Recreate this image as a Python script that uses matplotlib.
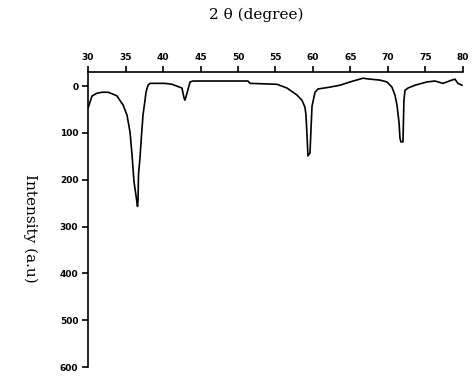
import matplotlib
matplotlib.use("Agg")
import matplotlib.pyplot as plt

two_theta = [30.0, 30.53, 31.2, 31.87, 32.67, 33.33, 33.87, 34.4, 34.67, 35.2,
             35.6, 35.87, 36.13, 36.4, 36.6, 36.67, 36.73, 36.93, 37.07, 37.33,
             37.6, 37.73, 38.0, 38.27, 40.27, 41.2, 41.87, 42.53, 42.8, 42.93,
             43.2, 43.6, 44.0, 45.6, 48.93, 51.33, 51.6, 55.2, 56.53, 57.87,
             58.53, 58.93, 59.07, 59.2, 59.33, 59.6, 59.73, 59.87, 60.27, 60.67,
             62.27, 63.6, 64.93, 66.67, 67.6, 68.93, 69.87, 70.53, 70.93, 71.2,
             71.47, 71.6, 71.73, 72.0, 72.13, 72.27, 72.67, 73.6, 75.2, 76.27,
             77.33, 78.53, 78.93, 79.33, 79.87]
intensity = [47, 21, 15, 13, 13, 17, 21, 34, 40, 62,
             98, 147, 204, 234, 257, 243, 189, 153, 119, 62,
             30, 13, -2, -6, -6, -4, 0, 4, 25, 30,
             15, -9, -11, -11, -11, -11, -6, -4, 4, 19,
             30, 45, 62, 104, 149, 143, 94, 43, 13, 6,
             2, -2, -9, -17, -15, -13, -9, 2, 19, 40,
             77, 111, 119, 119, 30, 9, 4, -2, -9, -11,
             -6, -13, -15, -6, -2]

x_ticks = [30, 35, 40, 45, 50, 55, 60, 65, 70, 75, 80]
y_ticks = [0, 100, 200, 300, 400, 500, 600]

fig = plt.figure(figsize=(4.74, 3.80), dpi=100)
ax = fig.add_axes([0.1857, 0.0342, 0.791, 0.776])

ax.plot(two_theta, intensity, color="black", lw=1.2)

ax.set_xlim(30, 80)
ax.set_ylim(600, -30)
ax.xaxis.tick_top()
ax.set_xticks(x_ticks)
ax.set_yticks(y_ticks)
ax.spines["right"].set_visible(False)
ax.spines["bottom"].set_visible(False)
ax.spines["top"].set_linewidth(1.2)
ax.spines["left"].set_linewidth(1.2)
ax.tick_params(axis="both", direction="out", length=4, width=1.2,
               labelsize=6.5, pad=3)
for lbl in ax.get_xticklabels() + ax.get_yticklabels():
    lbl.set_fontweight("bold")

fig.text(256 / 474, 1 - 15 / 380, "2 θ (degree)", ha="center", va="center",
         fontsize=11, family="DejaVu Serif")
fig.text(30 / 474, 1 - 228 / 380, "Intensity (a.u)", ha="center", va="center",
         rotation=270, fontsize=11, family="DejaVu Serif")

fig.savefig("out.png", dpi=100)
